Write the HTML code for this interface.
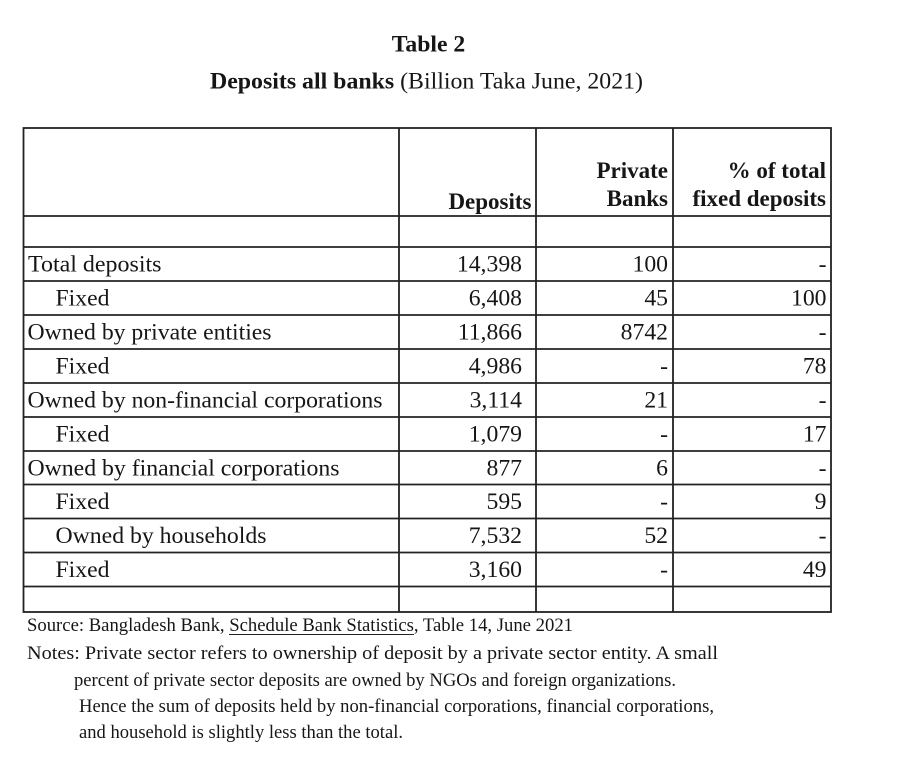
<!DOCTYPE html>
<html>
<head>
<meta charset="utf-8">
<style>
html,body{margin:0;padding:0;background:#fff;}
svg{display:block;}
text{font-family:"Liberation Serif","Times New Roman",serif;fill:#161616;}
.b{font-weight:bold;}
.t{font-size:23.7px;}
.h{font-size:23px;font-weight:bold;}
.n{font-size:19px;}
</style>
</head>
<body>
<svg width="900" height="759" viewBox="0 0 900 759" xmlns="http://www.w3.org/2000/svg">
<rect width="900" height="759" fill="#fff"/>
<!-- Title -->
<text x="428.5" y="51.7" class="t b" text-anchor="middle">Table 2</text>
<text x="210" y="88.5" class="t" textLength="433" lengthAdjust="spacingAndGlyphs"><tspan font-weight="bold">Deposits all banks</tspan> (Billion Taka June, 2021)</text>

<!-- Table lines -->
<g stroke="#222" stroke-width="1.8" fill="none">
<rect x="23.5" y="128" width="807.5" height="484"/>
<line x1="399" y1="128" x2="399" y2="612"/>
<line x1="536" y1="128" x2="536" y2="612"/>
<line x1="673" y1="128" x2="673" y2="612"/>
<line x1="23.5" y1="216" x2="831" y2="216"/>
<line x1="23.5" y1="247" x2="831" y2="247"/>
<line x1="23.5" y1="281" x2="831" y2="281"/>
<line x1="23.5" y1="315" x2="831" y2="315"/>
<line x1="23.5" y1="349" x2="831" y2="349"/>
<line x1="23.5" y1="383" x2="831" y2="383"/>
<line x1="23.5" y1="417" x2="831" y2="417"/>
<line x1="23.5" y1="451" x2="831" y2="451"/>
<line x1="23.5" y1="484.5" x2="831" y2="484.5"/>
<line x1="23.5" y1="518.5" x2="831" y2="518.5"/>
<line x1="23.5" y1="552.5" x2="831" y2="552.5"/>
<line x1="23.5" y1="586.5" x2="831" y2="586.5"/>
</g>

<!-- Header -->
<text x="531.5" y="209" class="h" text-anchor="end">Deposits</text>
<text x="668" y="178" class="h" text-anchor="end">Private</text>
<text x="668" y="206" class="h" text-anchor="end">Banks</text>
<text x="826" y="178" class="h" text-anchor="end">% of total</text>
<text x="826" y="206" class="h" text-anchor="end">fixed deposits</text>

<!-- Labels -->
<g class="t">
<text x="28" y="271.3" textLength="133.5" lengthAdjust="spacingAndGlyphs">Total deposits</text>
<text x="55.5" y="305.3">Fixed</text>
<text x="27.5" y="339.3" textLength="244" lengthAdjust="spacingAndGlyphs">Owned by private entities</text>
<text x="55.5" y="373.3">Fixed</text>
<text x="27.5" y="407.3" textLength="355" lengthAdjust="spacingAndGlyphs">Owned by non-financial corporations</text>
<text x="55.5" y="441.3">Fixed</text>
<text x="27.5" y="475.3" textLength="312" lengthAdjust="spacingAndGlyphs">Owned by financial corporations</text>
<text x="55.5" y="508.8">Fixed</text>
<text x="55.5" y="542.8" textLength="211" lengthAdjust="spacingAndGlyphs">Owned by households</text>
<text x="55.5" y="576.8">Fixed</text>
</g>

<!-- Deposits column -->
<g class="t" text-anchor="end">
<text x="522" y="271.3">14,398</text>
<text x="522" y="305.3">6,408</text>
<text x="522" y="339.3">11,866</text>
<text x="522" y="373.3">4,986</text>
<text x="522" y="407.3">3,114</text>
<text x="522" y="441.3">1,079</text>
<text x="522" y="475.3">877</text>
<text x="522" y="508.8">595</text>
<text x="522" y="542.8">7,532</text>
<text x="522" y="576.8">3,160</text>
</g>

<!-- Private Banks column -->
<g class="t" text-anchor="end">
<text x="668" y="271.3">100</text>
<text x="668" y="305.3">45</text>
<text x="668" y="339.3">8742</text>
<text x="668" y="373.3">-</text>
<text x="668" y="407.3">21</text>
<text x="668" y="441.3">-</text>
<text x="668" y="475.3">6</text>
<text x="668" y="508.8">-</text>
<text x="668" y="542.8">52</text>
<text x="668" y="576.8">-</text>
</g>

<!-- % column -->
<g class="t" text-anchor="end">
<text x="826.5" y="271.3">-</text>
<text x="826.5" y="305.3">100</text>
<text x="826.5" y="339.3">-</text>
<text x="826.5" y="373.3">78</text>
<text x="826.5" y="407.3">-</text>
<text x="826.5" y="441.3">17</text>
<text x="826.5" y="475.3">-</text>
<text x="826.5" y="508.8">9</text>
<text x="826.5" y="542.8">-</text>
<text x="826.5" y="576.8">49</text>
</g>

<!-- Source / Notes -->
<text x="27" y="631" class="n" textLength="546" lengthAdjust="spacingAndGlyphs">Source: Bangladesh Bank, Schedule Bank Statistics, Table 14, June 2021</text>
<line x1="229" y1="634.5" x2="414" y2="634.5" stroke="#222" stroke-width="1.1"/>
<text x="27" y="659" class="n" textLength="691" lengthAdjust="spacingAndGlyphs">Notes: Private sector refers to ownership of deposit by a private sector entity. A small</text>
<text x="74" y="686" class="n" textLength="602" lengthAdjust="spacingAndGlyphs">percent of private sector deposits are owned by NGOs and foreign organizations.</text>
<text x="79" y="712" class="n" textLength="635" lengthAdjust="spacingAndGlyphs">Hence the sum of deposits held by non-financial corporations, financial corporations,</text>
<text x="79" y="738" class="n" textLength="324" lengthAdjust="spacingAndGlyphs">and household is slightly less than the total.</text>
</svg>
</body>
</html>
